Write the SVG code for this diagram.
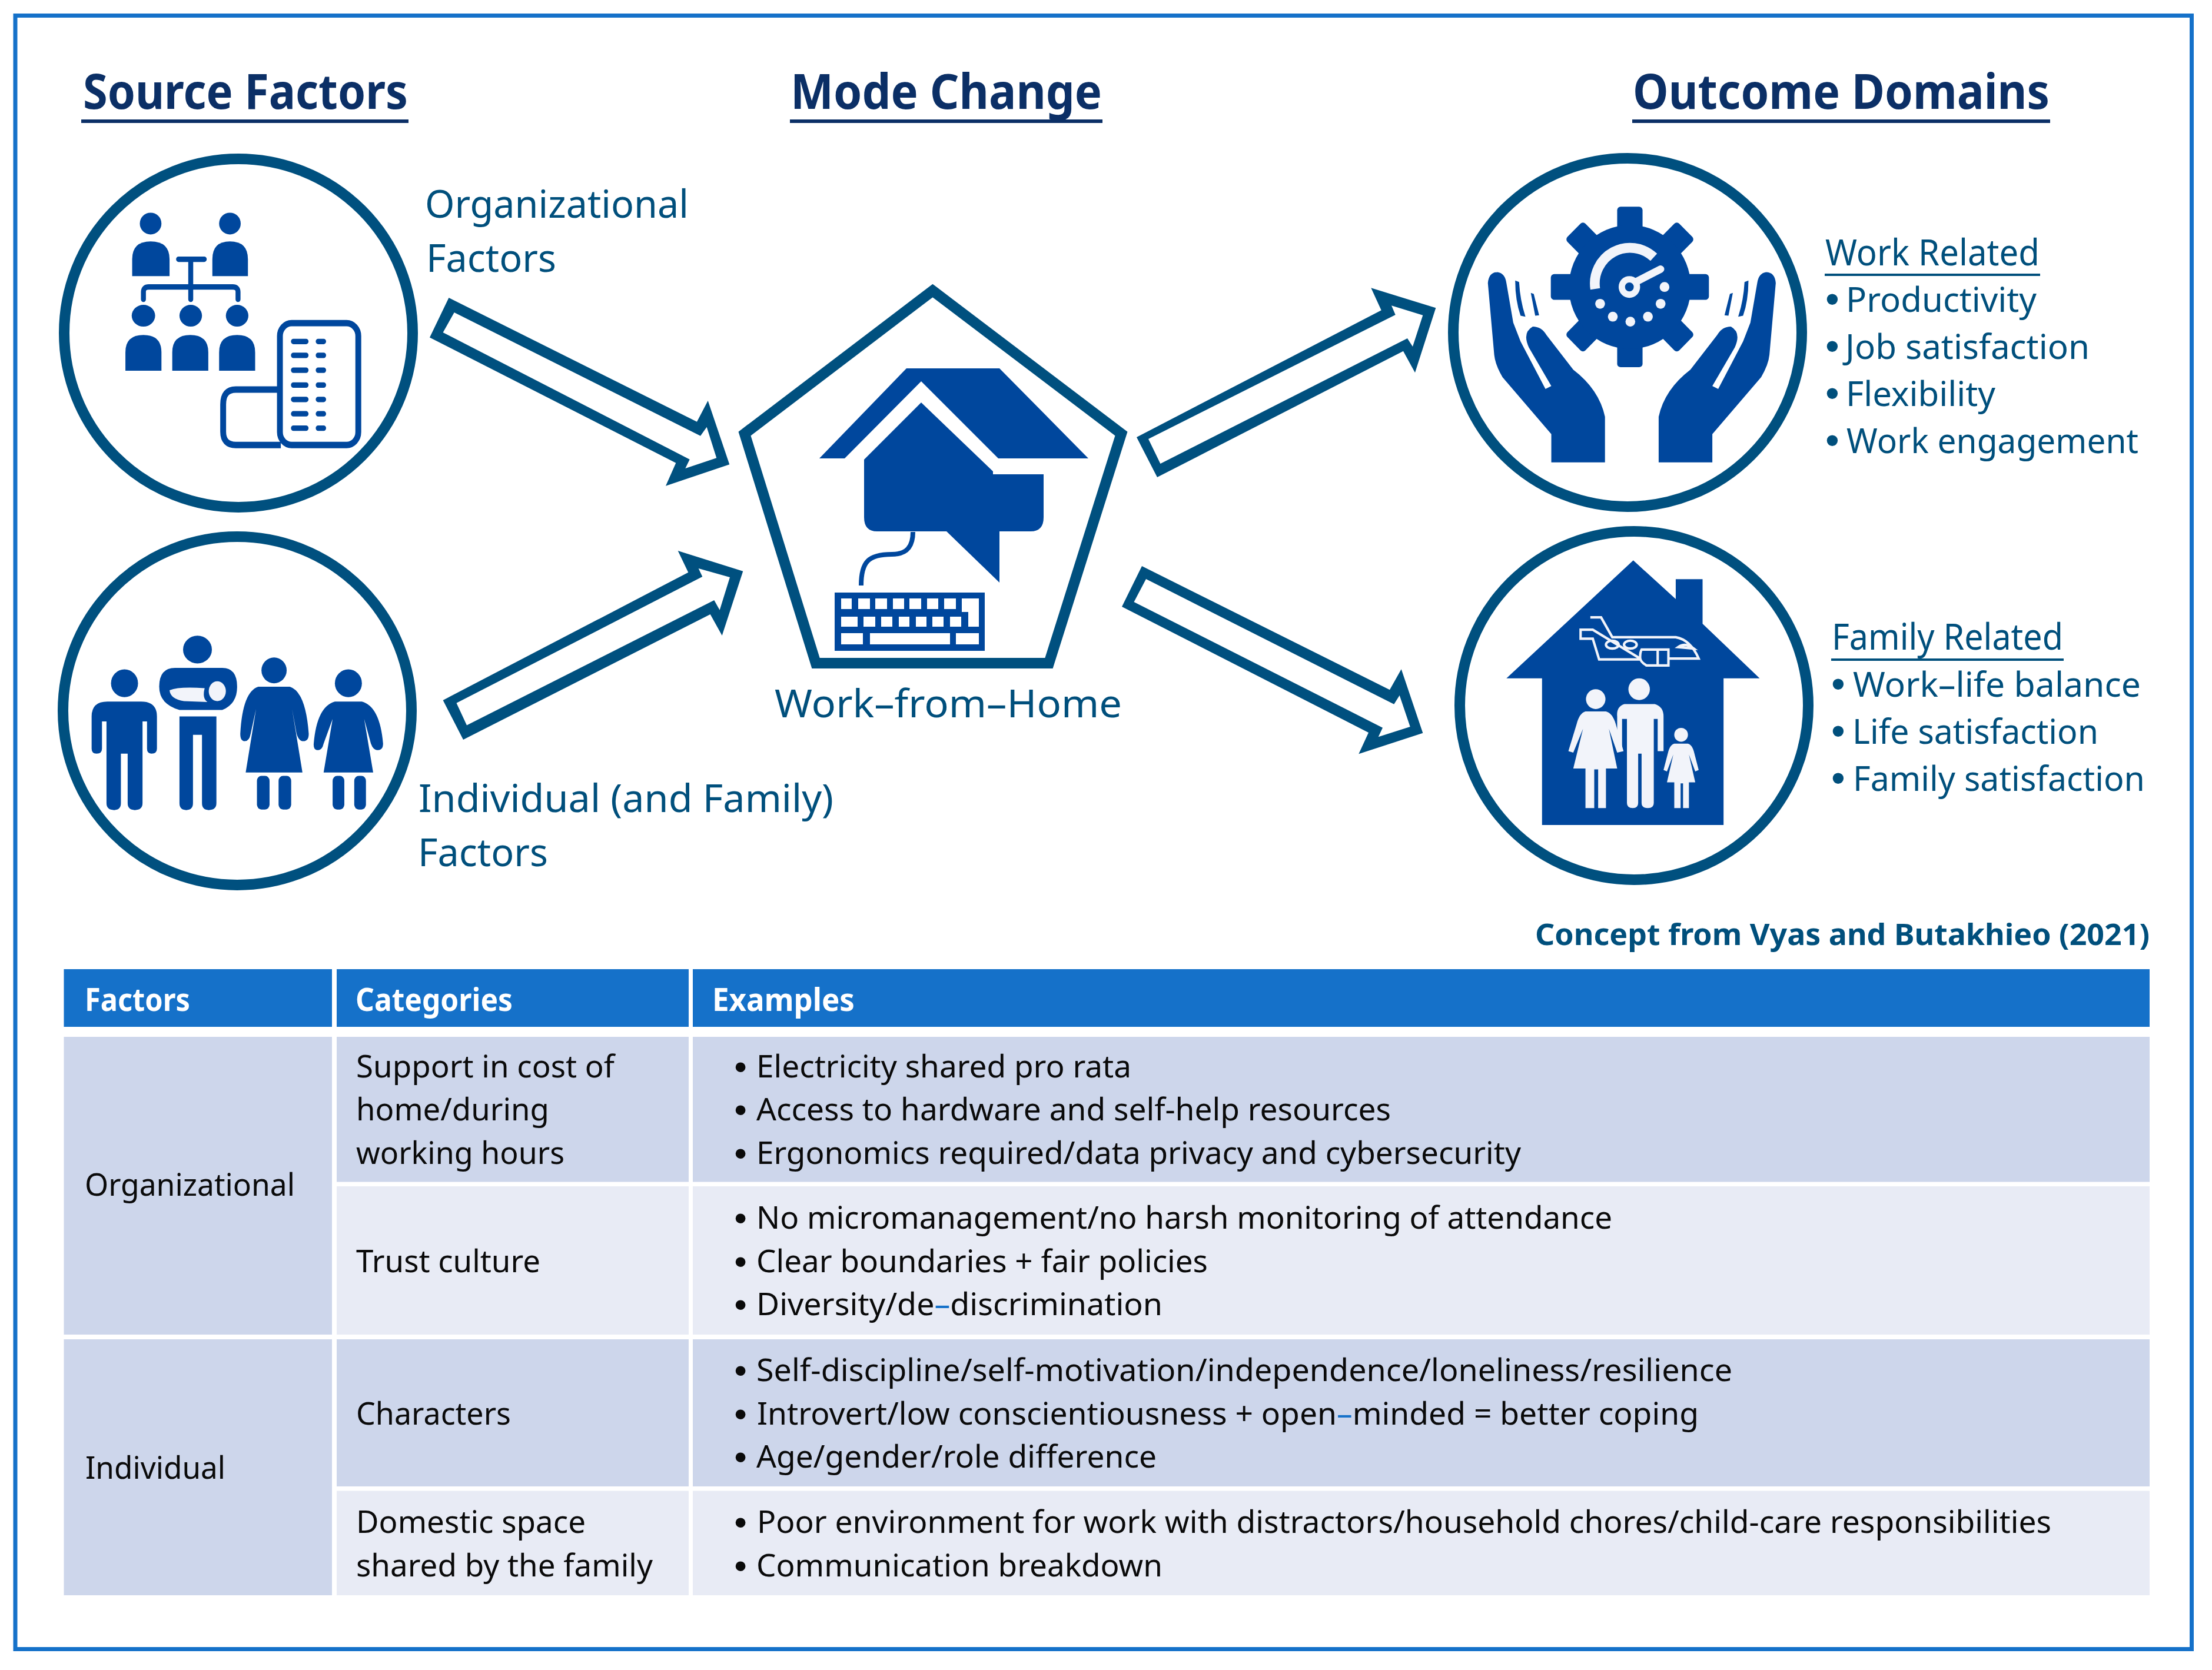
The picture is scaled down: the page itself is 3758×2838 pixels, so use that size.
<svg xmlns="http://www.w3.org/2000/svg" width="3758" height="2838" viewBox="0 0 3758 2838">
<style>
text{font-family:"Noto Sans","Open Sans","Liberation Sans",sans-serif}
.title{font-size:82px;font-weight:700;fill:#0b2f66}
.sub{font-size:65px;fill:#004f7c}
.sub2{font-size:62px;fill:#004f7c}
.li{font-size:58px;fill:#004f7c}
.blt{font-family:"Liberation Sans",sans-serif;font-size:68px;fill:#004f7c;text-anchor:middle;transform:translateY(1px)}
.cite{font-size:51px;font-weight:700;fill:#004f7c}
.th{font-size:53px;font-weight:700;fill:#fff}
.td{font-size:53px;fill:#0a0a0a}
.tb{font-family:"Liberation Sans",sans-serif;font-size:62px;fill:#0a0a0a;text-anchor:middle;transform:translateY(3px)}
.dash{fill:#1571c9}
.ring{fill:#fff;stroke:#00507f;stroke-width:18}
.ic{fill:#00479d}
.ics{fill:none;stroke:#00479d;stroke-linecap:round}
.w{fill:#f2f4fa}
.ws{fill:none;stroke:#f2f4fa}
.arr{fill:#00507f;fill-rule:evenodd}
.hd{fill:#1571c9}.d{fill:#cdd6eb}.l{fill:#e8ebf5}
.ul{stroke:#0b2f66;stroke-width:6}
.ul2{stroke:#004f7c;stroke-width:4}
</style>
<defs>
<g id="tooth"><rect x="-26" y="-162" width="52" height="60" rx="7"/></g>
<g id="hand">
<path class="ic" d="M130 310Q132 288 150 288Q165 290 168 310L182 390L197 428L248 524L260 518L214 440Q200 410 222 398Q240 398 250 415L305 485Q358 525 370 580L370 672H260V615L160 500Q145 475 143 455Z"/>
<path class="ic" d="M186 305L194 308Q196 345 207 378L197 376Q186 345 186 305ZM218 330L224 332L235 375L227 376Z"/>
</g>
</defs>
<rect width="3758" height="2838" fill="#fff"/>
<rect id="frame" x="26" y="26.5" width="3697.500" height="2776" fill="none" stroke="#1571c9" stroke-width="7"/>

<g id="headings">
<text class="title" x="141" y="185" textLength="552" lengthAdjust="spacingAndGlyphs">Source Factors</text><line class="ul" x1="138" y1="206" x2="694" y2="206"/>
<text class="title" x="1343" y="185" textLength="529" lengthAdjust="spacingAndGlyphs">Mode Change</text><line class="ul" x1="1342" y1="206" x2="1873" y2="206"/>
<text class="title" x="2774" y="185" textLength="708" lengthAdjust="spacingAndGlyphs">Outcome Domains</text><line class="ul" x1="2773" y1="206" x2="3483" y2="206"/>
</g>

<g id="connectors">
<path class="arr" d="M762.500 506L1184 716.700L1202.700 681L1239.300 789.300L1131 825.700L1148.300 786.700L730 573.500ZM771.700 531L1190 740.700L1200.700 725.700L1217.300 778.300L1164.300 796L1171.700 780.700L752.600 565Z"/>
<path class="arr" d="M752.600 1190L1169.300 972.700L1151.700 936L1262.300 970.700L1226.700 1080L1206.700 1044L787 1257ZM775.500 1194.800L1193.300 980L1186.700 966L1240 981L1222.700 1036.700L1213.300 1020L793 1232.600Z"/>
<path class="arr" d="M1931 743L2346.700 527.300L2329.300 489.300L2439.300 523.300L2404 633.300L2384 596.700L1966 811ZM1951 746L2370.700 535L2364 519.300L2417.300 535.700L2400 589L2391 575L1971.400 788Z"/>
<path class="arr" d="M1940 962L2361 1172.300L2380.700 1137.300L2417.300 1245.700L2308.300 1281.300L2325 1245L1906 1031ZM1947 984L2368.300 1196.700L2377.700 1181.700L2395.700 1235L2341.700 1252.300L2349 1236.700L1926.500 1023Z"/>
</g>

<g id="node-organizational">
<circle class="ring" cx="405" cy="566" r="296"/>
<g transform="translate(60,220) scale(.7653,.8418)">
<g class="ic">
<ellipse cx="256" cy="190" rx="24" ry="22"/><ellipse cx="432" cy="190" rx="24" ry="22"/>
<ellipse cx="240" cy="376" rx="26" ry="22"/><ellipse cx="345" cy="376" rx="25" ry="22"/><ellipse cx="448" cy="376" rx="25" ry="22"/>
<path d="M215 296V262Q215 226 256 226Q298 226 298 262V296Z"/><path d="M393 296V262Q393 226 432 226Q472 226 472 262V296Z"/>
<path d="M200 487V450Q200 415 240 415Q280 415 280 450V487Z"/><path d="M304 487V450Q304 415 344 415Q384 415 384 450V487Z"/><path d="M408 487V450Q408 415 448 415Q488 415 488 450V487Z"/>
</g>
<path class="ics" stroke-width="11" d="M318 262H375M345 262V343M240 343V328Q240 318 252 318H438Q450 318 450 328V343"/>
<rect x="543" y="391" width="174" height="246" rx="26" fill="none" stroke="#00479d" stroke-width="13"/>
<path fill="none" stroke="#00479d" stroke-width="13" d="M545 525H445Q417 525 417 555V610Q417 637 445 637H545"/>
<path class="ics" stroke-width="11" d="M573 428H601M628 428H640M573 456H601M628 456H640M573 486H601M628 486H640M573 516H601M628 516H640M573 545H601M628 545H640M573 574H601M628 574H640M573 603H601M628 603H640"/>
</g>
<text class="sub" x="722" y="370" textLength="448" lengthAdjust="spacingAndGlyphs">Organizational</text>
<text class="sub" x="724" y="462" textLength="221" lengthAdjust="spacingAndGlyphs">Factors</text>
</g>

<g id="node-individual">
<circle class="ring" cx="403" cy="1208" r="296"/>
<g transform="translate(60,220) scale(.7653,.8418)">
<g class="ic">
<ellipse cx="198" cy="1118" rx="30" ry="28"/>
<path d="M125 1250V1185Q125 1155 160 1155H235Q270 1155 270 1185V1250Q270 1260 258 1260Q248 1260 248 1250V1195H238V1360Q238 1374 221 1374Q205 1374 205 1360V1260H190V1360Q190 1374 175 1374Q158 1374 158 1360V1195H148V1250Q148 1260 136 1260Q125 1260 125 1250Z"/>
<ellipse cx="360" cy="1050" rx="32" ry="28"/>
<path d="M275 1125Q275 1087 310 1087H415Q448 1087 448 1125Q448 1160 415 1172H320Q275 1160 275 1125Z"/>
<path d="M320 1185H402V1360Q402 1374 385 1374Q370 1374 370 1360V1222H350V1360Q350 1374 335 1374Q320 1374 320 1360Z"/>
<ellipse cx="530" cy="1092" rx="28" ry="26"/>
<path d="M495 1125H565Q600 1135 607 1220Q607 1235 595 1235Q585 1235 580 1220L570 1170L593 1298H467L490 1170L478 1220Q475 1235 465 1235Q455 1235 455 1220Q460 1135 495 1125Z"/>
<rect x="492" y="1305" width="28" height="68" rx="10"/><rect x="540" y="1305" width="28" height="68" rx="10"/>
<ellipse cx="695" cy="1118" rx="30" ry="28"/>
<path d="M665 1155H725Q765 1165 772 1240Q772 1253 760 1253Q750 1253 745 1240L730 1190L750 1298H640L660 1190L640 1240Q637 1253 627 1253Q617 1253 618 1240Q625 1165 665 1155Z"/>
<rect x="660" y="1305" width="26" height="68" rx="10"/><rect x="708" y="1305" width="26" height="68" rx="10"/>
</g>
<path class="w" d="M298 1132Q320 1124 376 1128Q370 1148 382 1156L330 1154Q300 1150 298 1132Z"/>
<ellipse class="w" cx="404" cy="1134" rx="19" ry="20"/>
</g>
<text class="sub" x="711" y="1380" textLength="705" lengthAdjust="spacingAndGlyphs">Individual (and Family)</text>
<text class="sub" x="710" y="1472" textLength="221" lengthAdjust="spacingAndGlyphs">Factors</text>
</g>

<g id="node-wfh">
<polygon fill="#fff" stroke="#00507f" stroke-width="18" stroke-linejoin="miter" points="1584.500,494 1905,737 1782,1127 1386,1127 1265,737"/>
<g class="ic">
<polygon points="1540,626 1698,626 1849,779 1696,779 1565,648 1435,779 1392,779"/>
<path d="M1565 684L1468 781V879Q1468 903 1490 903H1608L1698 990V903H1751Q1773 903 1773 879V806H1687V801Z"/>
<rect x="1418" y="1007" width="255" height="99"/>
</g>
<path fill="none" stroke="#00479d" stroke-width="8" d="M1551 904C1551 930 1540 942 1515 942C1475 942 1463 955 1463 995"/>
<g fill="#fff">
<rect x="1429" y="1017" width="18" height="18"/><rect x="1458" y="1017" width="20" height="18"/><rect x="1487" y="1017" width="20" height="18"/><rect x="1517" y="1017" width="19" height="18"/><rect x="1545" y="1017" width="20" height="18"/><rect x="1575" y="1017" width="19" height="18"/><rect x="1604" y="1017" width="20" height="18"/>
<path d="M1634 1017H1663V1065H1645V1040H1634Z"/>
<rect x="1429" y="1048" width="28" height="17"/><rect x="1467" y="1048" width="20" height="17"/><rect x="1497" y="1048" width="19" height="17"/><rect x="1527" y="1048" width="18" height="17"/><rect x="1556" y="1048" width="18" height="17"/><rect x="1584" y="1048" width="19" height="17"/><rect x="1614" y="1048" width="19" height="17"/>
<rect x="1429" y="1076" width="37" height="19"/><rect x="1478" y="1076" width="136" height="19"/><rect x="1624" y="1076" width="39" height="19"/>
</g>
<text class="sub" x="1316" y="1219" textLength="590" lengthAdjust="spacingAndGlyphs">Work–from–Home</text>
</g>

<g id="node-work">
<circle class="ring" cx="2765" cy="565" r="296"/>
<g transform="translate(2420,220) scale(.829,.8418)">
<g class="ic" transform="translate(421,318)">
<use href="#tooth"/><use href="#tooth" transform="rotate(45)"/><use href="#tooth" transform="rotate(90)"/><use href="#tooth" transform="rotate(135)"/><use href="#tooth" transform="rotate(180)"/><use href="#tooth" transform="rotate(225)"/><use href="#tooth" transform="rotate(270)"/><use href="#tooth" transform="rotate(315)"/>
<circle r="125"/>
</g>
<path class="ws" stroke-width="20" d="M350 322A72 72 0 0 1 470 258"/>
<path class="ws" stroke-width="15" stroke-linecap="round" d="M425 312L484 282"/>
<circle class="w" cx="420" cy="318" r="22"/><circle class="ic" cx="420" cy="318" r="9"/>
<g class="w"><circle cx="492" cy="318" r="10"/><circle cx="484" cy="352" r="10"/><circle cx="458" cy="378" r="10"/><circle cx="422" cy="388" r="10"/><circle cx="386" cy="378" r="10"/><circle cx="360" cy="352" r="10"/></g>
<use href="#hand"/><use href="#hand" transform="translate(850,0) scale(-1,1)"/>
</g>
<text class="sub2" x="3101" y="451" textLength="364" lengthAdjust="spacingAndGlyphs">Work Related</text>
<line class="ul2" x1="3100" y1="467" x2="3466" y2="467"/>
<text class="blt" x="3113" y="530">•</text><text class="li" x="3136" y="530" textLength="324" lengthAdjust="spacingAndGlyphs">Productivity</text>
<text class="blt" x="3113" y="610">•</text><text class="li" x="3135" y="610" textLength="415" lengthAdjust="spacingAndGlyphs">Job satisfaction</text>
<text class="blt" x="3113" y="690">•</text><text class="li" x="3136" y="690" textLength="254" lengthAdjust="spacingAndGlyphs">Flexibility</text>
<text class="blt" x="3113" y="770">•</text><text class="li" x="3137" y="770" textLength="496" lengthAdjust="spacingAndGlyphs">Work engagement</text>
</g>

<g id="node-family">
<circle class="ring" cx="2776" cy="1199" r="296"/>
<g transform="translate(2420,220) scale(.829,.8418)">
<polygon class="ic" points="428,870 515,948 515,908 570,908 570,998 687,1108 613,1108 613,1404 241,1404 241,1108 168,1108"/>
<path class="ws" stroke-width="5" d="M340 985H362L385 1025H515Q545 1030 562 1068H500M445 1070H358L345 1028H320V1010H345Z"/>
<path class="ic" stroke="#f2f4fa" stroke-width="5" d="M445 1050H500V1082H455Q442 1075 442 1066Q442 1055 445 1050ZM478 1050V1082"/>
<path class="ws" stroke-width="5" d="M520 1045Q535 1035 552 1048Z"/>
<ellipse class="ws" stroke-width="5" cx="385" cy="1040" rx="13" ry="8"/><ellipse class="ws" stroke-width="5" cx="422" cy="1040" rx="13" ry="8"/>
<g class="w">
<circle cx="351" cy="1150" r="20"/>
<path d="M330 1175H372Q385 1178 392 1200L408 1255L395 1258L378 1210L395 1290H372V1370H356V1292H348V1370H330V1290H305L325 1210L305 1258L295 1255L312 1200Q318 1178 330 1175Z"/>
<circle cx="440" cy="1130" r="22"/>
<path d="M410 1160H472Q490 1165 490 1185V1255H478V1190H470V1360Q470 1370 458 1370Q445 1370 445 1360V1260H438V1360Q438 1370 427 1370Q415 1370 415 1360V1190H405V1255H395V1185Q393 1165 410 1160Z"/>
<circle cx="526" cy="1222" r="14"/>
<path d="M512 1240H540Q548 1242 552 1255L562 1293L555 1296L542 1262L555 1318H542V1370H530V1320H525V1370H512V1318H497L510 1262L497 1296L490 1293L500 1255Q504 1242 512 1240Z"/>
</g>
</g>
<text class="sub2" x="3112" y="1104" textLength="393" lengthAdjust="spacingAndGlyphs">Family Related</text>
<line class="ul2" x1="3111" y1="1121" x2="3506" y2="1121"/>
<text class="blt" x="3123" y="1184">•</text><text class="li" x="3148" y="1184" textLength="489" lengthAdjust="spacingAndGlyphs">Work–life balance</text>
<text class="blt" x="3123" y="1264">•</text><text class="li" x="3147" y="1264" textLength="418" lengthAdjust="spacingAndGlyphs">Life satisfaction</text>
<text class="blt" x="3123" y="1344">•</text><text class="li" x="3148" y="1344" textLength="496" lengthAdjust="spacingAndGlyphs">Family satisfaction</text>
</g>

<text class="cite" x="2608" y="1606" textLength="1044" lengthAdjust="spacingAndGlyphs">Concept from Vyas and Butakhieo (2021)</text>

<g id="table">
<rect class="hd" x="108.500" y="1647" width="455.500" height="98"/><rect class="hd" x="572" y="1647" width="598" height="98"/><rect class="hd" x="1177" y="1647" width="2475" height="98"/>
<rect class="d" x="108.500" y="1762" width="455.500" height="506"/><rect class="d" x="108.500" y="2276" width="455.500" height="435"/>
<rect class="d" x="572" y="1762" width="598" height="246.500"/><rect class="d" x="1177" y="1762" width="2475" height="246.500"/>
<rect class="l" x="572" y="2016" width="598" height="252"/><rect class="l" x="1177" y="2016" width="2475" height="252"/>
<rect class="d" x="572" y="2276" width="598" height="250"/><rect class="d" x="1177" y="2276" width="2475" height="250"/>
<rect class="l" x="572" y="2533.500" width="598" height="177.500"/><rect class="l" x="1177" y="2533.500" width="2475" height="177.500"/>

<text class="th" x="144" y="1718" textLength="179" lengthAdjust="spacingAndGlyphs">Factors</text>
<text class="th" x="604" y="1718" textLength="267" lengthAdjust="spacingAndGlyphs">Categories</text>
<text class="th" x="1210" y="1718" textLength="242" lengthAdjust="spacingAndGlyphs">Examples</text>

<text class="td" x="144" y="2032" textLength="357" lengthAdjust="spacingAndGlyphs">Organizational</text>
<text class="td" x="145" y="2513" textLength="238" lengthAdjust="spacingAndGlyphs">Individual</text>

<text class="td" x="605" y="1831" textLength="439" lengthAdjust="spacingAndGlyphs">Support in cost of</text>
<text class="td" x="605" y="1904" textLength="328" lengthAdjust="spacingAndGlyphs">home/during</text>
<text class="td" x="605" y="1978" textLength="354" lengthAdjust="spacingAndGlyphs">working hours</text>
<text class="td" x="605" y="2162" textLength="313" lengthAdjust="spacingAndGlyphs">Trust culture</text>
<text class="td" x="605" y="2421" textLength="263" lengthAdjust="spacingAndGlyphs">Characters</text>
<text class="td" x="605" y="2605" textLength="390" lengthAdjust="spacingAndGlyphs">Domestic space</text>
<text class="td" x="605" y="2679" textLength="504" lengthAdjust="spacingAndGlyphs">shared by the family</text>

<text class="tb" x="1258" y="1831">•</text><text class="td" x="1285" y="1831" textLength="637" lengthAdjust="spacingAndGlyphs">Electricity shared pro rata</text>
<text class="tb" x="1258" y="1904">•</text><text class="td" x="1285" y="1904" textLength="1078" lengthAdjust="spacingAndGlyphs">Access to hardware and self-help resources</text>
<text class="tb" x="1258" y="1978">•</text><text class="td" x="1285" y="1978" textLength="1299" lengthAdjust="spacingAndGlyphs">Ergonomics required/data privacy and cybersecurity</text>
<text class="tb" x="1258" y="2088">•</text><text class="td" x="1285" y="2088" textLength="1454" lengthAdjust="spacingAndGlyphs">No micromanagement/no harsh monitoring of attendance</text>
<text class="tb" x="1258" y="2162">•</text><text class="td" x="1285" y="2162" textLength="767" lengthAdjust="spacingAndGlyphs">Clear boundaries + fair policies</text>
<text class="tb" x="1258" y="2235">•</text><text class="td" x="1285" y="2235" textLength="690" lengthAdjust="spacingAndGlyphs">Diversity/de<tspan class="dash">–</tspan>discrimination</text>
<text class="tb" x="1258" y="2347">•</text><text class="td" x="1285" y="2347" textLength="1658" lengthAdjust="spacingAndGlyphs">Self-discipline/self-motivation/independence/loneliness/resilience</text>
<text class="tb" x="1258" y="2421">•</text><text class="td" x="1286" y="2421" textLength="1600" lengthAdjust="spacingAndGlyphs">Introvert/low conscientiousness + open<tspan class="dash">–</tspan>minded = better coping</text>
<text class="tb" x="1258" y="2494">•</text><text class="td" x="1285" y="2494" textLength="680" lengthAdjust="spacingAndGlyphs">Age/gender/role difference</text>
<text class="tb" x="1258" y="2605">•</text><text class="td" x="1286" y="2605" textLength="2199" lengthAdjust="spacingAndGlyphs">Poor environment for work with distractors/household chores/child-care responsibilities</text>
<text class="tb" x="1258" y="2679">•</text><text class="td" x="1285" y="2679" textLength="690" lengthAdjust="spacingAndGlyphs">Communication breakdown</text>
</g>
</svg>
